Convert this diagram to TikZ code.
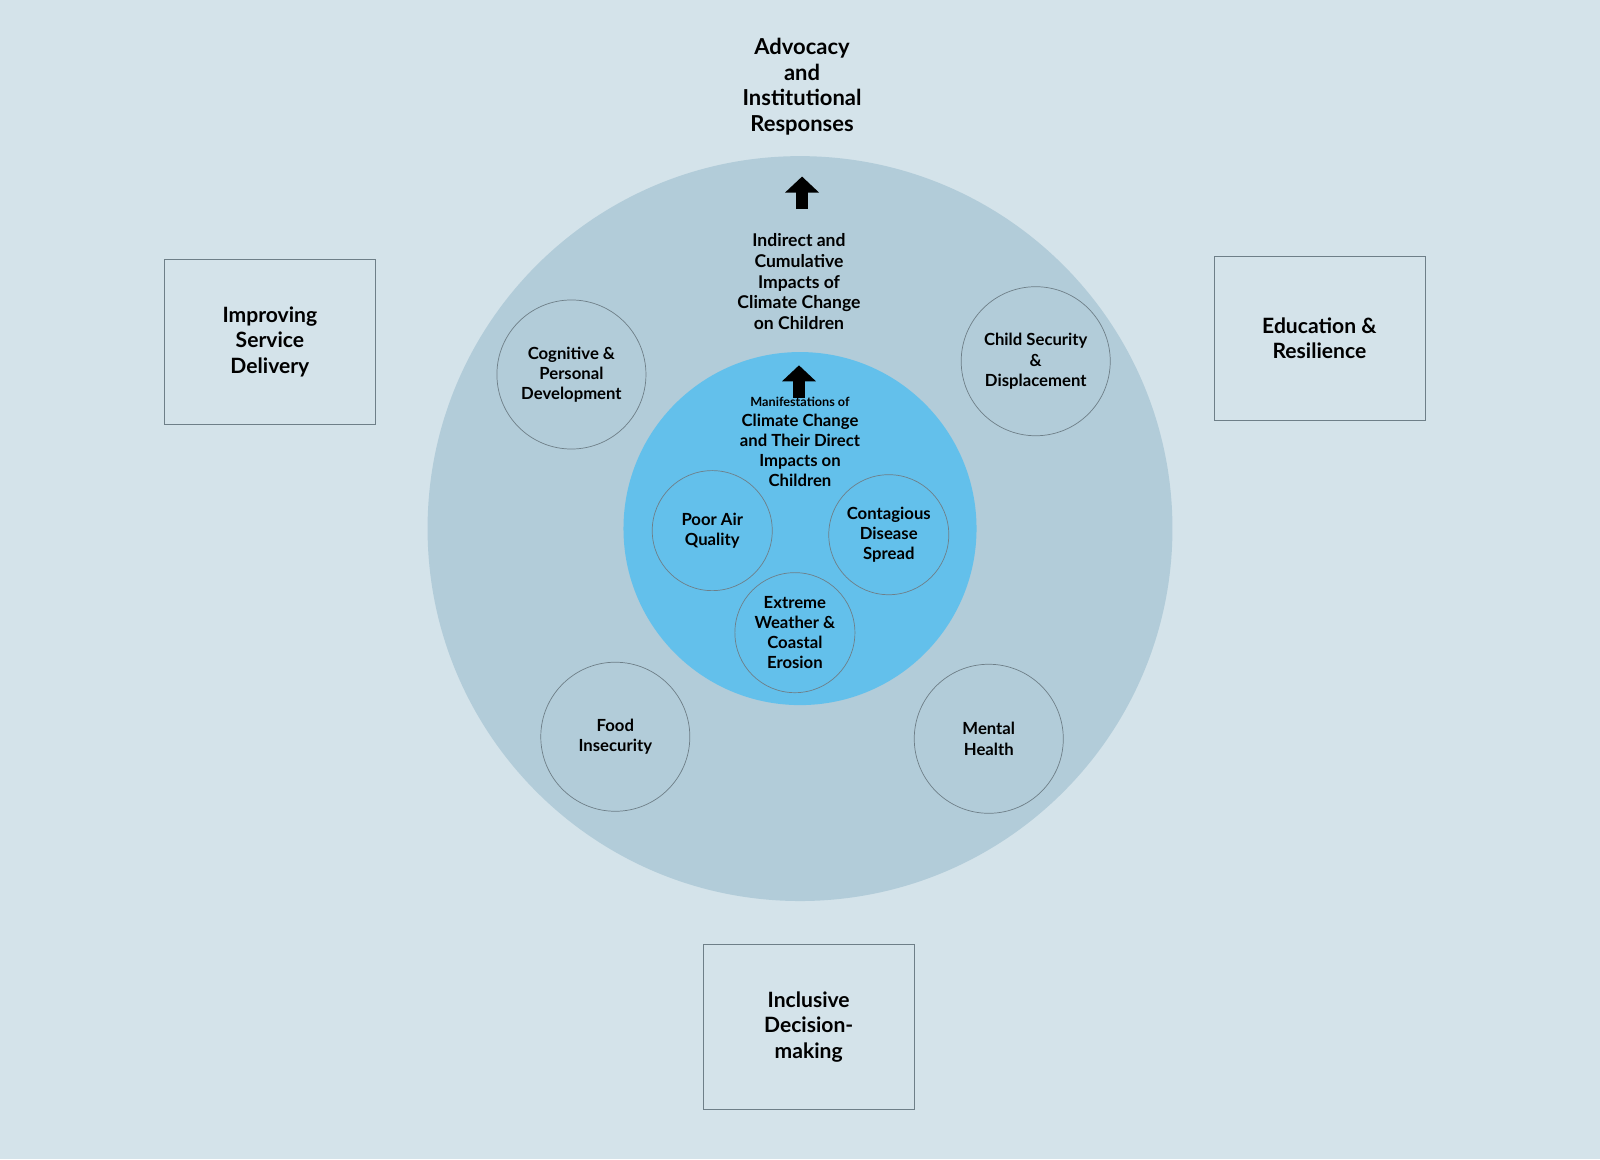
\documentclass[tikz,border=0pt]{standalone}
\usepackage{fontspec}
\setmainfont{Lato}
\usetikzlibrary{positioning}
\usetikzlibrary{arrows.meta}
\definecolor{bgblue}{HTML}{D4E3EA}
\definecolor{outerblue}{HTML}{B2CCD9}
\definecolor{innerblue}{HTML}{63C0EB}
\definecolor{ringgrey}{HTML}{6E7F88}
\tikzset{
  theme/.style={draw=ringgrey, line width=0.4pt, circle, minimum size=2.98cm, inner sep=0pt, align=center, font=\bfseries\fontsize{9.5}{11.5}\selectfont},
  direct/.style={theme, minimum size=2.4cm},
  lever/.style={draw=ringgrey, line width=0.4pt, minimum width=4.22cm, minimum height=3.29cm, align=center, font=\bfseries\fontsize{12}{14.3}\selectfont},
  heading/.style={align=center, font=\bfseries\fontsize{9.5}{11.5}\selectfont},
  uparrow/.style={line width=0.25cm, -{Triangle[width=0.66cm, length=0.32cm]}}
}
\begin{document}
\begin{tikzpicture}[x=0.0204cm, y=-0.0204cm]
\fill[bgblue] (0,0) rectangle (1568,1136);
\useasboundingbox (0,0) rectangle (1568,1136);

% rings
\fill[outerblue] (784,518) circle (365*0.0204cm);
\fill[innerblue] (784,518) circle (173*0.0204cm);

% outer themes
\node[theme] (cognitive) at (560,367) {Cognitive \&\\Personal\\Development};
\node[theme] (security) at (1015,354) {Child Security\\\&\\Displacement};
\node[theme] (food) at (603,722) {Food\\Insecurity};
\node[theme] (mental) at (969,724) {Mental\\Health};

% inner themes
\node[direct] (air) at (698,520) {Poor Air\\Quality};
\node[direct] (disease) at (871,524) {Contagious\\Disease\\Spread};
\node[direct] (weather) at (779,620) {Extreme\\Weather \&\\Coastal\\Erosion};

% headings
\node[heading] (direct) at (784,433) {\fontsize{7.2}{8.8}\selectfont Manifestations of\\Climate Change\\and Their Direct\\Impacts on\\Children};
\node[heading, font=\bfseries\fontsize{10}{11.7}\selectfont] (indirect) at (783,276) {Indirect and\\Cumulative\\Impacts of\\Climate Change\\on Children};
\node[heading, font=\bfseries\fontsize{12.5}{14.5}\selectfont] (advocacy) at (786,85) {Advocacy\\and\\Institutional\\Responses};

% arrows
\coordinate (a1) at (786,205);
\coordinate (a2) at (786,173);
\coordinate (b1) at (783,390);
\coordinate (b2) at (783,358);
\draw[uparrow] (a1) -- (a2);
\draw[uparrow] (b1) -- (b2);

% levers
\node[lever] (service) at (264.5,335) {Improving\\Service\\Delivery};
\node[lever] (education) at (1293,331.5) {Education \&\\Resilience};
\node[lever] (inclusive) at (792.5,1006.5) {Inclusive\\Decision-\\making};
\end{tikzpicture}
\end{document}
